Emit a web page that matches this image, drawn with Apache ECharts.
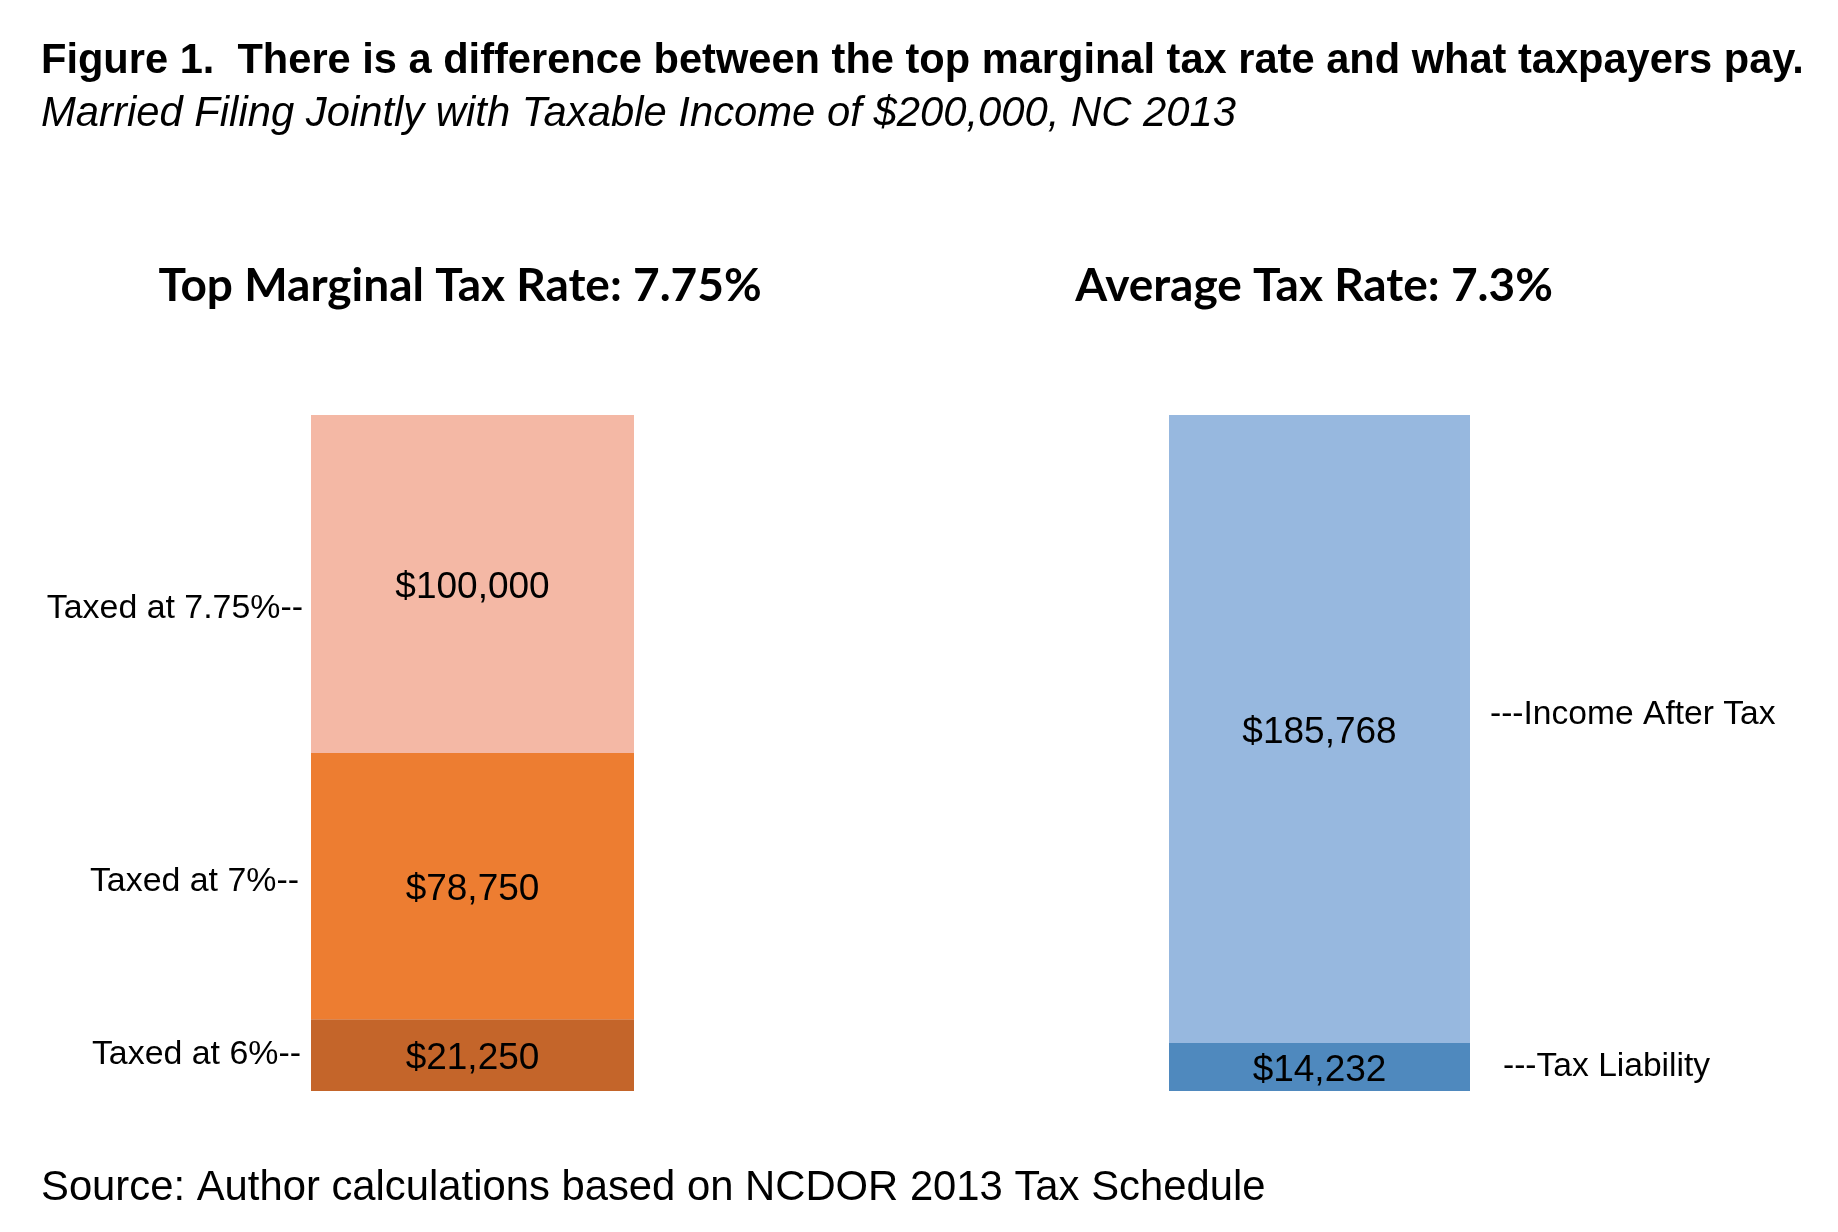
<!DOCTYPE html>
<html>
<head>
<meta charset="utf-8">
<script src="https://cdn.jsdelivr.net/npm/echarts@6/dist/echarts.min.js"></script>
<style>
html,body{margin:0;padding:0;background:#fff;}
#chart{width:1838px;height:1232px;}
</style>
</head>
<body>
<div id="chart"></div>
<script>
// ---- data ----
const titleText = 'Figure 1.  There is a difference between the top marginal tax rate and what taxpayers pay.';
const subtitleText = 'Married Filing Jointly with Taxable Income of $200,000, NC 2013';
const sourceText = 'Source: Author calculations based on NCDOR 2013 Tax Schedule';
const panelTitles = ['Top Marginal Tax Rate: 7.75%', 'Average Tax Rate: 7.3%'];
const bracketNames = ['Taxed at 6%--', 'Taxed at 7%--', 'Taxed at 7.75%--'];
const bracketValues = [21250, 78750, 100000];
const avgNames = ['---Tax Liability', '---Income After Tax'];
const avgValues = [14232, 185768];
const totalIncome = 200000;

const leftColors = ['#C4652A', '#ED7D31', '#F4B8A5'];
const rightColors = ['#4F89BE', '#97B8DF'];

const fmt = v => '$' + v.toLocaleString('en-US');
const ARIAL = '"Liberation Sans", Arial, sans-serif';

const chart = echarts.init(document.getElementById('chart'));

function barSeries(name, value, color, stack, idx) {
  return {
    type: 'bar', name: name, stack: stack,
    xAxisIndex: idx, yAxisIndex: idx,
    barWidth: '100%',
    data: [value],
    itemStyle: { color: color },
    label: {
      show: true, position: 'inside', formatter: p => fmt(p.value),
      color: '#000', fontSize: 37, fontFamily: ARIAL, offset: [0, 4]
    },
    emphasis: { disabled: true },
    silent: true
  };
}

const series = [];
bracketValues.forEach((v, i) => series.push(barSeries(bracketNames[i], v, leftColors[i], 'L', 0)));
avgValues.forEach((v, i) => series.push(barSeries(avgNames[i], v, rightColors[i], 'R', 1)));

const hiddenCat = (d, i) => ({ type: 'category', gridIndex: i, data: d, show: false, axisTick: {show:false} });
const hiddenVal = i => ({ type: 'value', gridIndex: i, min: 0, max: totalIncome, show: false, splitLine: {show:false} });

chart.setOption({
  animation: false,
  backgroundColor: '#fff',
  grid: [
    { left: 311, width: 323, top: 415, height: 676 },
    { left: 1169, width: 301, top: 415, height: 676 }
  ],
  xAxis: [hiddenCat(['marginal'], 0), hiddenCat(['average'], 1)],
  yAxis: [hiddenVal(0), hiddenVal(1)],
  series: series
});

// side annotations positioned from data via the axes
function segMid(values, k) {
  let s = 0; for (let j = 0; j < k; j++) s += values[j];
  return s + values[k] / 2;
}
const graphics = [
  { type: 'text', x: 41, y: 62, style: { text: titleText, font: 'bold 41.6px ' + ARIAL, fill: '#000', textAlign: 'left', textVerticalAlign: 'middle' } },
  { type: 'text', x: 41, y: 114, style: { text: subtitleText, font: 'italic 41.8px ' + ARIAL, fill: '#000', textAlign: 'left', textVerticalAlign: 'middle' } },
  { type: 'text', x: 41, y: 1188, style: { text: sourceText, font: '41.8px ' + ARIAL, fill: '#000', textAlign: 'left', textVerticalAlign: 'middle' } },
  { type: 'text', x: 460, y: 286, style: { text: panelTitles[0], font: 'bold 46px Lato, sans-serif', fill: '#000', textAlign: 'center', textVerticalAlign: 'middle' } },
  { type: 'text', x: 1314, y: 286, style: { text: panelTitles[1], font: 'bold 46px Lato, sans-serif', fill: '#000', textAlign: 'center', textVerticalAlign: 'middle' } }
];
const leftDy = [0, -4, 25];
const leftDx = [-10, -12, -8];
bracketNames.forEach((n, k) => {
  const p = chart.convertToPixel({ gridIndex: 0 }, [0, segMid(bracketValues, k)]);
  graphics.push({ type: 'text', x: 311 + leftDx[k], y: p[1] + leftDy[k],
    style: { text: n, font: '33.9px ' + ARIAL, fill: '#000', textAlign: 'right', textVerticalAlign: 'middle' } });
});
const rightDy = [0, -14];
const rightDx = [33, 20];
avgNames.forEach((n, k) => {
  const p = chart.convertToPixel({ gridIndex: 1 }, [0, segMid(avgValues, k)]);
  graphics.push({ type: 'text', x: 1470 + rightDx[k], y: p[1] + rightDy[k],
    style: { text: n, font: '33.6px ' + ARIAL, fill: '#000', textAlign: 'left', textVerticalAlign: 'middle' } });
});
chart.setOption({ graphic: graphics });
</script>
</body>
</html>
